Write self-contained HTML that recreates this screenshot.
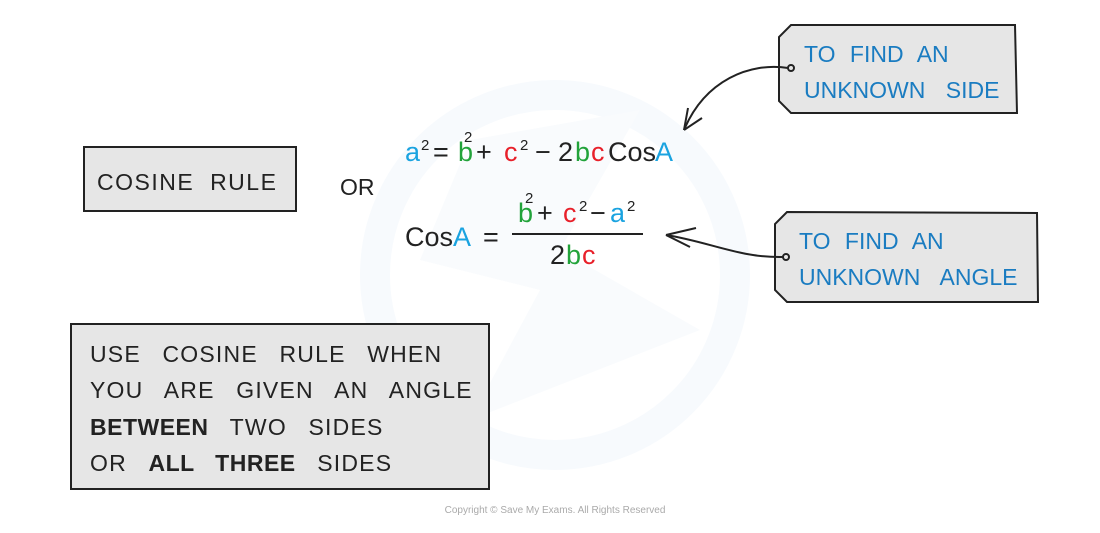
<!DOCTYPE html>
<html><head><meta charset="utf-8"><style>
body{margin:0;background:#fff;}
svg{display:block}
text{font-family:"Liberation Sans",sans-serif;}
</style></head><body>
<svg width="1100" height="533" viewBox="0 0 1100 533" xmlns="http://www.w3.org/2000/svg">
<circle cx="555" cy="275" r="180" fill="none" stroke="#f7fafd" stroke-width="30"/>
<path d="M470 140 L640 110 L560 250 L700 330 L470 420 L540 290 L420 260 Z" fill="#f9fbfd"/>
<rect x="84" y="147" width="212" height="64" fill="#e6e6e6" stroke="#222" stroke-width="2"/>
<text x="97" y="190" font-size="23" fill="#222" letter-spacing="1.5" word-spacing="8">COSINE RULE</text>
<text x="340" y="195" font-size="23" fill="#222">OR</text>
<g font-size="27" fill="#222">
<text x="405" y="161" fill="#1aa3e0">a</text>
<text x="421" y="150" font-size="15">2</text>
<text x="433" y="161">=</text>
<text x="458" y="161" fill="#22a33a">b</text>
<text x="464" y="142" font-size="15">2</text>
<text x="476" y="161">+</text>
<text x="504" y="161" fill="#e8202a">c</text>
<text x="520" y="150" font-size="15">2</text>
<text x="535" y="161">−</text>
<text x="558" y="161">2</text>
<text x="575" y="161" fill="#22a33a">b</text>
<text x="591" y="161" fill="#e8202a">c</text>
<text x="608" y="161">Cos</text>
<text x="655" y="161" fill="#1aa3e0">A</text>
</g>
<g font-size="27" fill="#222">
<text x="405" y="246">Cos</text>
<text x="453" y="246" fill="#1aa3e0">A</text>
<text x="483" y="246">=</text>
<text x="518" y="222" fill="#22a33a">b</text>
<text x="525" y="203" font-size="15">2</text>
<text x="537" y="222">+</text>
<text x="563" y="222" fill="#e8202a">c</text>
<text x="579" y="211" font-size="15">2</text>
<text x="590" y="222">−</text>
<text x="610" y="222" fill="#1aa3e0">a</text>
<text x="627" y="211" font-size="15">2</text>
<text x="550" y="264">2</text>
<text x="566" y="264" fill="#22a33a">b</text>
<text x="582" y="264" fill="#e8202a">c</text>
</g>
<line x1="512" y1="234" x2="643" y2="234" stroke="#222" stroke-width="2"/>
<polygon points="791,25 1015,25 1017,113 791,113 779,101 779,37" fill="#e6e6e6" stroke="#222" stroke-width="2"/>
<polygon points="787,212 1037,213 1038,302 787,302 775,290 775,224" fill="#e6e6e6" stroke="#222" stroke-width="2"/>
<text x="804" y="62" font-size="23" fill="#1a7cc1" word-spacing="8">TO FIND AN</text>
<text x="804" y="98" font-size="23" fill="#1a7cc1" word-spacing="14">UNKNOWN SIDE</text>
<text x="799" y="249" font-size="23" fill="#1a7cc1" word-spacing="8">TO FIND AN</text>
<text x="799" y="285" font-size="23" fill="#1a7cc1" word-spacing="14">UNKNOWN ANGLE</text>
<circle cx="791" cy="68" r="3" fill="none" stroke="#222" stroke-width="2"/>
<path d="M788 68 C750 62 705 80 684 130" fill="none" stroke="#222" stroke-width="2"/>
<path d="M684 130 L688 108 M684 130 L702 118" fill="none" stroke="#222" stroke-width="2"/>
<circle cx="786" cy="257" r="3" fill="none" stroke="#222" stroke-width="2"/>
<path d="M783 257 C740 258 710 242 666 235" fill="none" stroke="#222" stroke-width="2"/>
<path d="M666 235 L696 228 M666 235 L690 247" fill="none" stroke="#222" stroke-width="2"/>
<rect x="71" y="324" width="418" height="165" fill="#e6e6e6" stroke="#222" stroke-width="2"/>
<g font-size="23" fill="#222" word-spacing="14" letter-spacing="1.2">
<text x="90" y="362">USE COSINE RULE WHEN</text>
<text x="90" y="398">YOU ARE GIVEN AN ANGLE</text>
<text x="90" y="435"><tspan font-weight="bold" letter-spacing="0.5">BETWEEN</tspan> TWO SIDES</text>
<text x="90" y="471">OR <tspan font-weight="bold" letter-spacing="0.5">ALL THREE</tspan> SIDES</text>
</g>
<text x="555" y="513" font-size="10" fill="#aaa" text-anchor="middle">Copyright © Save My Exams. All Rights Reserved</text>
</svg>
</body></html>
